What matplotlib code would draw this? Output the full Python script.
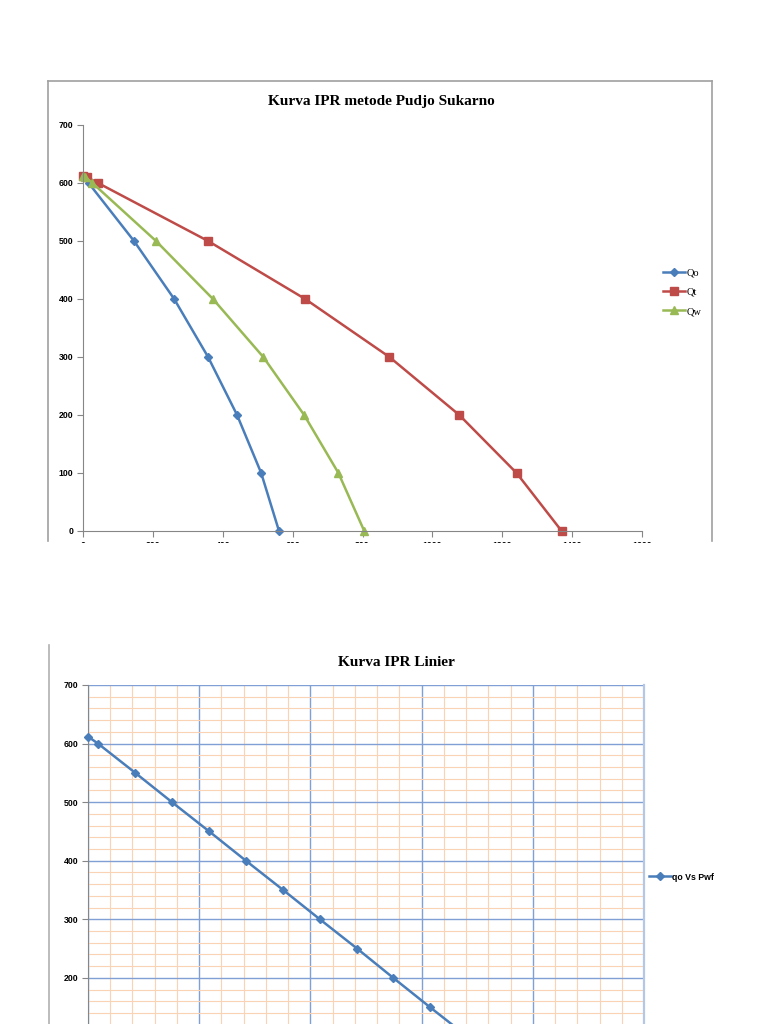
import numpy as np
import matplotlib
matplotlib.use('Agg')
import matplotlib.pyplot as plt
from matplotlib.lines import Line2D
from matplotlib.patches import Rectangle
from matplotlib.ticker import MultipleLocator, FuncFormatter

# ---- data: Pudjo Sukarno IPR (Pwf vs rates)
pwf_ps = [612, 610, 600, 500, 400, 300, 200, 100, 0]
qo_ps = [0, 4, 16, 146, 261, 358, 441, 510, 561]
qt_ps = [0, 11, 43, 358, 636, 877, 1077, 1241, 1370]
qw_ps = [0, 7, 27, 209, 372, 516, 633, 731, 805]

# ---- data: linear IPR
pwf_lin = [612, 600, 550, 500, 450, 400, 350, 300, 250, 200, 150, 100, 50, 0]
qo_lin = [0, 18, 85, 151, 218, 284, 351, 417, 484, 549, 615, 682, 748, 815]

W, H = 768, 1024
fig = plt.figure(figsize=(W / 100, H / 100), dpi=100)
fig.patch.set_facecolor('white')

def rect(x0, y0, x1, y1):
    # pixel box (top-left origin) -> figure fraction
    return [x0 / W, 1 - y1 / H, (x1 - x0) / W, (y1 - y0) / H]

blue = '#4A7EBB'
red = '#BE4B48'
green = '#98B954'
serif = ['Liberation Serif', 'DejaVu Serif']
sans = ['Liberation Sans', 'DejaVu Sans']

# ---------------- chart 1
ax1 = fig.add_axes(rect(83, 125, 642, 531))
ax1.plot(qo_ps, pwf_ps, color=blue, lw=1.8, marker='D', ms=4, label='Qo', clip_on=False)
ax1.plot(qt_ps, pwf_ps, color=red, lw=1.8, marker='s', ms=6, label='Qt', clip_on=False)
ax1.plot(qw_ps, pwf_ps, color=green, lw=1.8, marker='^', ms=6, label='Qw', clip_on=False)
ax1.set_xlim(0, 1600)
ax1.set_ylim(0, 700)
ax1.xaxis.set_major_locator(MultipleLocator(200))
ax1.yaxis.set_major_locator(MultipleLocator(100))
for s in ['top', 'right']:
    ax1.spines[s].set_visible(False)
for s in ['left', 'bottom']:
    ax1.spines[s].set_color('#868686')
    ax1.spines[s].set_linewidth(0.8)
ax1.tick_params(colors='#868686', length=4, width=0.8, labelsize=6.3, pad=3)
for lab in ax1.get_yticklabels() + ax1.get_xticklabels():
    lab.set_color('black')
    lab.set_fontweight('bold')
    lab.set_family(sans)
fig.text(381 / W, 1 - 102 / H, 'Kurva IPR metode Pudjo Sukarno', fontsize=11,
         fontweight='bold', family=serif, ha='center', va='center')
ax1.legend(loc='upper left', bbox_to_anchor=(1.02, 0.67), frameon=False,
           prop={'family': serif, 'size': 7.5}, handlelength=2.2, handletextpad=0.1,
           labelspacing=0.95)

# outer frame of chart 1 (bottom edge is cut off in the scan)
fr = dict(color='#A0A0A0', lw=1.2, transform=fig.transFigure)
fig.add_artist(Line2D([48 / W, 712 / W], [1 - 81 / H, 1 - 81 / H], **fr))
fig.add_artist(Line2D([48 / W, 48 / W], [1 - 81 / H, 1 - 541 / H], **fr))
fig.add_artist(Line2D([712 / W, 712 / W], [1 - 81 / H, 1 - 541 / H], **fr))
fig.add_artist(Rectangle((0, 1 - 600 / H), 1, 57 / H, transform=fig.transFigure,
                         facecolor='white', edgecolor='none', zorder=10))

# ---------------- chart 2
ax2 = fig.add_axes(rect(88, 685, 644, 1095))
ax2.set_xlim(0, 1000)
ax2.set_ylim(0, 700)
ax2.xaxis.set_major_locator(MultipleLocator(200))
ax2.xaxis.set_minor_locator(MultipleLocator(40))
ax2.yaxis.set_major_locator(MultipleLocator(100))
ax2.yaxis.set_minor_locator(MultipleLocator(20))
ax2.yaxis.set_major_formatter(FuncFormatter(lambda v, p: '%d' % v if v >= 200 else ''))
ax2.grid(which='minor', color='#FAD3B5', lw=0.8)
ax2.grid(which='major', color='#7F9FD5', lw=1.0)
ax2.set_axisbelow(True)
ax2.plot(qo_lin, pwf_lin, color=blue, lw=1.8, marker='D', ms=4.5, label='qo Vs Pwf',
         clip_on=False, zorder=5)
ax2.spines['top'].set_visible(False)
ax2.spines['right'].set_color('#B4C7E7')
ax2.spines['right'].set_linewidth(1.6)
ax2.spines['left'].set_color('#868686')
ax2.spines['bottom'].set_visible(False)
ax2.tick_params(which='both', length=0)
ax2.tick_params(axis='y', which='major', length=4, color='#868686', labelsize=6.3, pad=3)
for lab in ax2.get_yticklabels():
    lab.set_fontweight('bold')
    lab.set_family(sans)
ax2.set_xticklabels([])
fig.text(396 / W, 1 - 663 / H, 'Kurva IPR Linier', fontsize=11, fontweight='bold',
         family=serif, ha='center', va='center')
ax2.legend(loc='center left', bbox_to_anchor=(0.995, 1 - (877 - 685) / 410), frameon=False,
           prop={'family': sans, 'size': 6.3, 'weight': 'bold'}, handlelength=2.5,
           handletextpad=0.1)
fig.add_artist(Line2D([49 / W, 49 / W], [1 - 645 / H, 0], color='#B0B0B0', lw=1.2,
                      transform=fig.transFigure))

fig.savefig('out.png', dpi=100)
